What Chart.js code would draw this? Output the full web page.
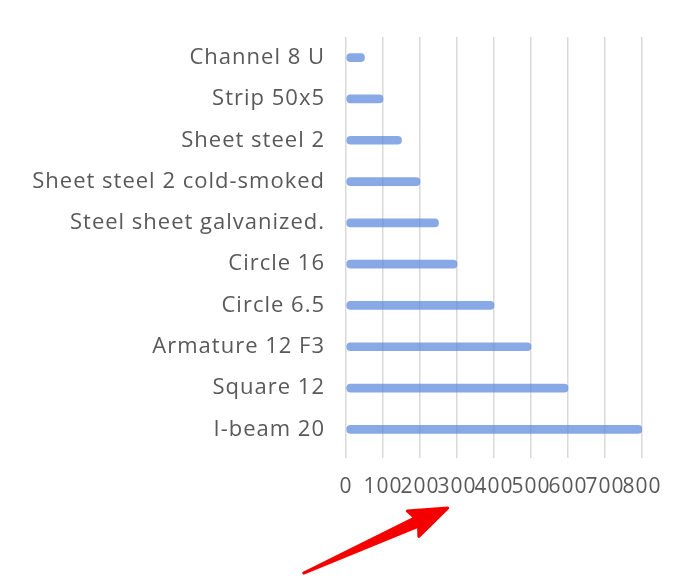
<!DOCTYPE html>
<html>
<head>
<meta charset="utf-8">
<script src="https://cdn.jsdelivr.net/npm/chart.js@4"></script>
<style>
  html, body { margin: 0; padding: 0; background: #fff; }
  #wrap { width: 688px; height: 579px; }
</style>
</head>
<body>
<div id="wrap"><canvas id="diagramm"></canvas></div>
<script>
// Kategooriad ülevalt alla
const kategooriad = [
    "Channel 8 U", "Strip 50x5", "Sheet steel 2", "Sheet steel 2 cold-smoked",
    "Steel sheet galvanized.", "Circle 16", "Circle 6.5", "Armature 12 F3",
    "Square 12", "I-beam 20"
];
// Väärtused (loetud pildilt)
const vaartused = [50, 100, 150, 200, 250, 300, 400, 500, 600, 800];
// Telje märgid
const teljeMargid = [0, 100, 200, 300, 400, 500, 600, 700, 800];

// Laiem tähevahe, et kiri sarnaneks originaaliga
const tahevahePlugin = {
    id: 'tahevahe',
    beforeDraw(chart) {
        chart.ctx.letterSpacing = '1px';
    }
};

// Punane nool joonise all (ainult märge, mitte andmed)
const noolePlugin = {
    id: 'nool',
    afterDraw(chart) {
        const ctx = chart.ctx;
        const x = chart.scales.x;
        const tipX = x.getPixelForValue(275);
        const tipY = chart.chartArea.bottom + 58;
        const tailX = tipX - 144, tailY = tipY + 65;
        const dx = tipX - tailX, dy = tipY - tailY;
        const len = Math.hypot(dx, dy);
        const ux = dx / len, uy = dy / len;
        const nx = -uy, ny = ux;
        const headLen = 34, headW = 14, shaftW = 4.5;
        const bx = tipX - ux * headLen, by = tipY - uy * headLen;
        ctx.save();
        ctx.fillStyle = '#f50000';
        ctx.strokeStyle = '#f50000';
        ctx.lineJoin = 'round';
        ctx.lineWidth = 3;
        ctx.beginPath();
        ctx.moveTo(tailX, tailY);
        ctx.lineTo(bx + nx * shaftW, by + ny * shaftW);
        ctx.lineTo(bx + nx * headW - ux * 4, by + ny * headW - uy * 4);
        ctx.lineTo(tipX, tipY);
        ctx.lineTo(bx - nx * headW - ux * 4, by - ny * headW - uy * 4);
        ctx.lineTo(bx - nx * shaftW, by - ny * shaftW);
        ctx.closePath();
        ctx.fill();
        ctx.stroke();
        ctx.restore();
    }
};

const ctx = document.getElementById('diagramm').getContext('2d');
new Chart(ctx, {
    type: 'bar',
    data: {
        labels: kategooriad,
        datasets: [{
            data: vaartused,
            backgroundColor: 'rgba(90, 135, 220, 0.72)',
            borderWidth: 0,
            borderRadius: 4,
            borderSkipped: false,
            barThickness: 8
        }]
    },
    options: {
        indexAxis: 'y',
        responsive: true,
        maintainAspectRatio: false,
        animation: false,
        layout: { padding: { top: 37, right: 46, bottom: 0, left: 0 } },
        plugins: { legend: { display: false }, tooltip: { enabled: false } },
        scales: {
            x: {
                min: 0,
                max: 800,
                afterBuildTicks: (s) => { s.ticks = teljeMargid.map(v => ({ value: v })); },
                afterFit: (s) => { s.height = 129; },
                grid: { color: '#d9d9d9', lineWidth: 1.5, tickLength: 8 },
                border: { display: false },
                ticks: {
                    autoSkip: false,
                    maxRotation: 0,
                    padding: 16,
                    color: '#595959',
                    font: { family: 'Open Sans', size: 21 }
                }
            },
            y: {
                afterFit: (s) => { s.width = 346; },
                grid: { display: false },
                border: { display: false },
                ticks: {
                    padding: 13,
                    color: '#595959',
                    font: { family: 'Open Sans', size: 22 }
                }
            }
        }
    },
    plugins: [tahevahePlugin, noolePlugin]
});
</script>
</body>
</html>
